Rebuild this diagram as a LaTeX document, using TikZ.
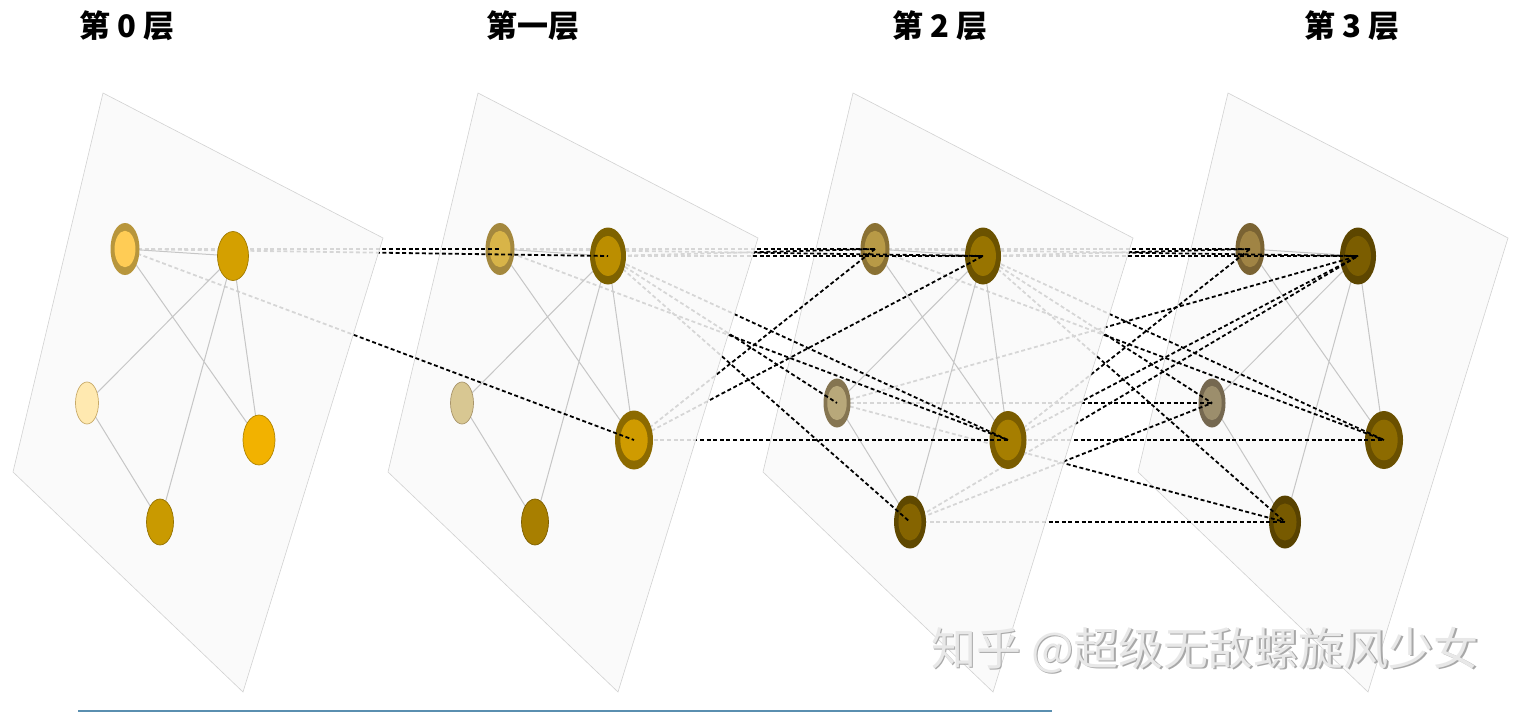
\documentclass[tikz,border=0pt]{standalone}
\usepackage{fontspec}
\newfontfamily\cjk{Noto Sans CJK SC}
\usetikzlibrary{shapes.geometric}
\pgfdeclarelayer{bg}
\pgfdeclarelayer{P3}\pgfdeclarelayer{N3}\pgfdeclarelayer{E23}
\pgfdeclarelayer{P2}\pgfdeclarelayer{N2}\pgfdeclarelayer{E12}
\pgfdeclarelayer{P1}\pgfdeclarelayer{N1}\pgfdeclarelayer{E01}
\pgfdeclarelayer{P0}\pgfdeclarelayer{N0}
\pgfsetlayers{bg,P3,N3,E23,P2,N2,E12,P1,N1,E01,P0,N0,main}
\definecolor{planefill}{HTML}{FAFAFA}
\definecolor{planeedge}{HTML}{D2D2D2}
\definecolor{intragrey}{HTML}{C6C6C6}
\definecolor{lineblue}{HTML}{5A8FB0}
\definecolor{wmtext}{HTML}{E8E8E8}
\definecolor{wmshadow}{HTML}{A8A8A8}
% layer 0
\definecolor{a0o}{HTML}{B8963C}\definecolor{a0i}{HTML}{FFCC55}
\definecolor{b0f}{HTML}{D4A000}\definecolor{b0d}{HTML}{A07A00}
\definecolor{c0f}{HTML}{FFE9B0}\definecolor{c0d}{HTML}{C8AA68}
\definecolor{d0f}{HTML}{F2B200}\definecolor{d0d}{HTML}{B08400}
\definecolor{e0f}{HTML}{C99A00}\definecolor{e0d}{HTML}{957200}
% layer 1
\definecolor{a1o}{HTML}{A4883E}\definecolor{a1i}{HTML}{D8B448}
\definecolor{b1o}{HTML}{7E6200}\definecolor{b1i}{HTML}{BB8E00}
\definecolor{c1f}{HTML}{D8C792}\definecolor{c1d}{HTML}{A8946A}
\definecolor{d1o}{HTML}{8C6A00}\definecolor{d1i}{HTML}{CF9B00}
\definecolor{e1f}{HTML}{A87F00}\definecolor{e1d}{HTML}{7D5E00}
% layer 2
\definecolor{a2o}{HTML}{8A7133}\definecolor{a2i}{HTML}{B89A46}
\definecolor{b2o}{HTML}{6B5200}\definecolor{b2i}{HTML}{987400}
\definecolor{c2o}{HTML}{857551}\definecolor{c2i}{HTML}{B8A87A}
\definecolor{d2o}{HTML}{7A5C00}\definecolor{d2i}{HTML}{A67E00}
\definecolor{e2o}{HTML}{5F4800}\definecolor{e2i}{HTML}{856400}
% layer 3
\definecolor{a3o}{HTML}{7A6333}\definecolor{a3i}{HTML}{A08444}
\definecolor{b3o}{HTML}{5D4600}\definecolor{b3i}{HTML}{7B5D00}
\definecolor{c3o}{HTML}{756850}\definecolor{c3i}{HTML}{9C8E6C}
\definecolor{d3o}{HTML}{6A5000}\definecolor{d3i}{HTML}{8D6B00}
\definecolor{e3o}{HTML}{584200}\definecolor{e3i}{HTML}{775A00}
\begin{document}
\begin{tikzpicture}[x=1pt,y=-1pt,
  plane/.style={fill=planefill, fill opacity=0.86, draw=planeedge, line width=0.6pt},
  intra/.style={draw=intragrey, line width=1pt},
  inter/.style={draw=black, line width=1.8pt, dash pattern=on 4pt off 2.6pt},
  flat/.style n args={4}{ellipse, inner sep=0pt, minimum width=#1, minimum height=#2, fill=#3, draw=#4, line width=0.7pt},
  ring/.style n args={4}{ellipse, inner sep=0pt, minimum width=#1, minimum height=#2, fill=#3,
     path picture={\fill[#4] (path picture bounding box.center) ellipse [x radius=0.36*#1, y radius=0.35*#2];}},
  title/.style={font=\cjk\bfseries\fontsize{31}{31}\selectfont, text=black, inner sep=0pt},
  wm/.style={font=\cjk\fontsize{45}{45}\selectfont, inner sep=0pt},
]
\useasboundingbox (0,0) rectangle (1518,712);
\begin{pgfonlayer}{bg}
\fill[white] (0,0) rectangle (1518,712);
\end{pgfonlayer}

% ---------- planes ----------
\begin{pgfonlayer}{P0}
\filldraw[plane] (103,93) -- (383,238) -- (243,692) -- (13,472) -- cycle;
\end{pgfonlayer}
\begin{pgfonlayer}{P1}
\filldraw[plane] (478,93) -- (758,238) -- (618,692) -- (388,472) -- cycle;
\end{pgfonlayer}
\begin{pgfonlayer}{P2}
\filldraw[plane] (853,93) -- (1133,238) -- (993,692) -- (763,472) -- cycle;
\end{pgfonlayer}
\begin{pgfonlayer}{P3}
\filldraw[plane] (1228,93) -- (1508,238) -- (1368,692) -- (1138,472) -- cycle;
\end{pgfonlayer}

% ---------- nodes ----------
\begin{pgfonlayer}{N0}
\node[ring={29pt}{52pt}{a0o}{a0i}] (a0) at (125,249) {};
\node[flat={31pt}{49pt}{b0f}{b0d}] (b0) at (233,256) {};
\node[flat={23pt}{42pt}{c0f}{c0d}] (c0) at (87,403) {};
\node[flat={32pt}{50pt}{d0f}{d0d}] (d0) at (259,440) {};
\node[flat={27pt}{46pt}{e0f}{e0d}] (e0) at (160,522) {};
\end{pgfonlayer}
\begin{pgfonlayer}{N1}
\node[ring={29pt}{52pt}{a1o}{a1i}] (a1) at (500,249) {};
\node[ring={36pt}{57pt}{b1o}{b1i}] (b1) at (608,256) {};
\node[flat={23pt}{42pt}{c1f}{c1d}] (c1) at (462,403) {};
\node[ring={38pt}{59pt}{d1o}{d1i}] (d1) at (634,440) {};
\node[flat={27pt}{46pt}{e1f}{e1d}] (e1) at (535,522) {};
\end{pgfonlayer}
\begin{pgfonlayer}{N2}
\node[ring={29pt}{52pt}{a2o}{a2i}] (a2) at (875,249) {};
\node[ring={36pt}{57pt}{b2o}{b2i}] (b2) at (983,256) {};
\node[ring={27pt}{49pt}{c2o}{c2i}] (c2) at (837,403) {};
\node[ring={37pt}{58pt}{d2o}{d2i}] (d2) at (1008,440) {};
\node[ring={32pt}{53pt}{e2o}{e2i}] (e2) at (910,522) {};
\end{pgfonlayer}
\begin{pgfonlayer}{N3}
\node[ring={29pt}{52pt}{a3o}{a3i}] (a3) at (1250,249) {};
\node[ring={36pt}{57pt}{b3o}{b3i}] (b3) at (1358,256) {};
\node[ring={27pt}{49pt}{c3o}{c3i}] (c3) at (1212,403) {};
\node[ring={38pt}{58pt}{d3o}{d3i}] (d3) at (1384,440) {};
\node[ring={32pt}{53pt}{e3o}{e3i}] (e3) at (1285,522) {};
\end{pgfonlayer}

% ---------- edges inside each layer ----------
\begin{pgfonlayer}{P0}
\draw[intra] (a0.center) -- (b0.center) (a0.center) -- (d0.center) (b0.center) -- (c0.center)
  (b0.center) -- (e0.center) (b0.center) -- (d0.center) (c0.center) -- (e0.center);
\end{pgfonlayer}
\begin{pgfonlayer}{P1}
\draw[intra] (a1.center) -- (b1.center) (a1.center) -- (d1.center) (b1.center) -- (c1.center)
  (b1.center) -- (e1.center) (b1.center) -- (d1.center) (c1.center) -- (e1.center);
\end{pgfonlayer}
\begin{pgfonlayer}{P2}
\draw[intra] (a2.center) -- (b2.center) (a2.center) -- (d2.center) (b2.center) -- (c2.center)
  (b2.center) -- (e2.center) (b2.center) -- (d2.center) (c2.center) -- (e2.center);
\end{pgfonlayer}
\begin{pgfonlayer}{P3}
\draw[intra] (a3.center) -- (b3.center) (a3.center) -- (d3.center) (b3.center) -- (c3.center)
  (b3.center) -- (e3.center) (b3.center) -- (d3.center) (c3.center) -- (e3.center);
\end{pgfonlayer}

% ---------- edges between layers ----------
\begin{pgfonlayer}{E01}
\draw[inter] (a0.center) -- (a1.center);
\draw[inter] (a0.center) -- (b1.center);
\draw[inter] (a0.center) -- (d1.center);
\end{pgfonlayer}
\begin{pgfonlayer}{E12}
\draw[inter] (a1.center) -- (a2.center);
\draw[inter] (a1.center) -- (b2.center);
\draw[inter] (a1.center) -- (d2.center);
\draw[inter] (b1.center) -- (a2.center);
\draw[inter] (b1.center) -- (b2.center);
\draw[inter] (b1.center) -- (c2.center);
\draw[inter] (b1.center) -- (d2.center);
\draw[inter] (b1.center) -- (e2.center);
\draw[inter] (d1.center) -- (a2.center);
\draw[inter] (d1.center) -- (b2.center);
\draw[inter] (d1.center) -- (d2.center);
\end{pgfonlayer}
\begin{pgfonlayer}{E23}
\draw[inter] (a2.center) -- (a3.center);
\draw[inter] (a2.center) -- (b3.center);
\draw[inter] (a2.center) -- (d3.center);
\draw[inter] (b2.center) -- (a3.center);
\draw[inter] (b2.center) -- (b3.center);
\draw[inter] (b2.center) -- (c3.center);
\draw[inter] (b2.center) -- (d3.center);
\draw[inter] (b2.center) -- (e3.center);
\draw[inter] (c2.center) -- (b3.center);
\draw[inter] (c2.center) -- (c3.center);
\draw[inter] (c2.center) -- (e3.center);
\draw[inter] (d2.center) -- (a3.center);
\draw[inter] (d2.center) -- (b3.center);
\draw[inter] (d2.center) -- (d3.center);
\draw[inter] (e2.center) -- (b3.center);
\draw[inter] (e2.center) -- (c3.center);
\draw[inter] (e2.center) -- (e3.center);
\end{pgfonlayer}

% ---------- titles ----------
\node[title] (t0) at (127,26) {第 0 层};
\node[title] (t1) at (533,26) {第一层};
\node[title] (t2) at (940,26) {第 2 层};
\node[title] (t3) at (1352,26) {第 3 层};

% ---------- watermark ----------
\node[wm, text=wmshadow] (wms) at (1206.5,651.5) {知乎 @超级无敌螺旋风少女};
\node[wm, text=wmtext] (wmt) at (1205,650) {知乎 @超级无敌螺旋风少女};

% ---------- bottom rule ----------
\coordinate (r1) at (78,711);
\coordinate (r2) at (1052,711);
\draw[lineblue, line width=1.2pt] (r1) -- (r2);
\end{tikzpicture}
\end{document}
